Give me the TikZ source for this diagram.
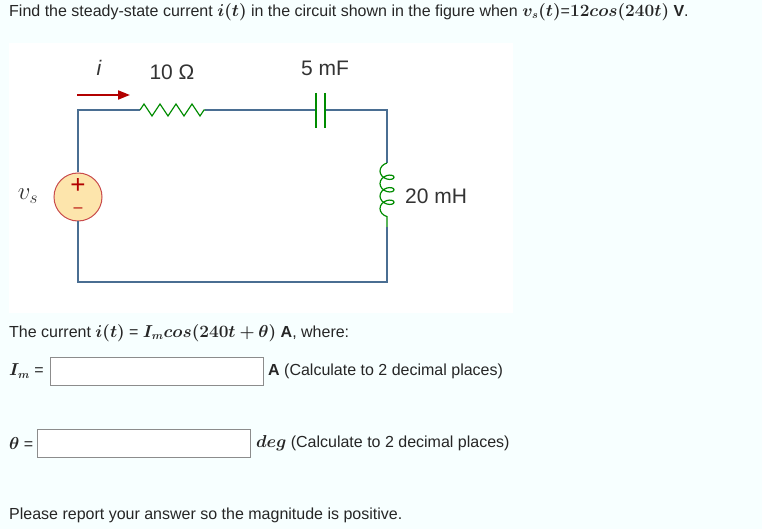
\documentclass[tikz,border=0pt]{standalone}
\usepackage{bm}
\usepackage{fontspec}
\setmainfont{Liberation Sans}
\usetikzlibrary{decorations.pathmorphing,arrows.meta}
\newcommand{\mm}[1]{$\bm{#1}$}
\definecolor{wirec}{HTML}{4A6E92}
\begin{document}
\begin{tikzpicture}[x=1pt,y=-1pt,
 wire/.style={draw=wirec,line width=1.6},
 comp/.style={draw=green!55!black,line width=1.2},
 txt/.style={anchor=west,inner sep=0,font=\fontsize{16}{19}\selectfont,text=black!85},
 lbl/.style={inner sep=0,font=\fontsize{21}{24}\selectfont,text=black!80},
 inbox/.style={draw=black!45,fill=white,minimum width=213,minimum height=28,anchor=west,inner sep=0}]
\fill[blue!4!cyan!3] (0,0) rectangle (762,529);
\useasboundingbox (0,0) rectangle (762,529);
\fill[white] (9,43) rectangle (513,313);
\node[txt] (t1) at (9,12) {Find the steady-state current \mm{i(t)} in the circuit shown in the figure when \mm{v_s(t)}=\mm{12cos(240t)\ \mathrm{V}}.};
% circuit
\coordinate (tl) at (78,110); \coordinate (tr) at (387,110);
\coordinate (bl) at (78,282); \coordinate (br) at (387,282);
\node[circle,draw=red!70!black!70,fill=yellow!40!orange!30,line width=1,minimum size=48] (src) at (78,197) {};
\node[inner sep=0,text=red!70!black,font=\fontsize{26}{26}\selectfont] (pl) at (78,186) {+};
\node[inner sep=0,text=red!70!black,font=\fontsize{16}{16}\selectfont] (mi) at (78,210) {--};
\coordinate (r1) at (140,110); \coordinate (r2) at (205,110);
\coordinate (c1) at (316,110); \coordinate (c2) at (325,110);
\coordinate (l1) at (387,163); \coordinate (l2) at (387,227);
\draw[wire] (src.north) -- (tl) -- (r1);
\draw[wire] (r2) -- (c1); \draw[wire] (c2) -- (tr) -- (l1);
\draw[wire] (l2) -- (br) -- (bl) -- (src.south);
\draw[comp,decorate,decoration={zigzag,segment length=16,amplitude=6}] (r1) -- (r2);
\draw[comp] (316,93) -- (316,128) (325,93) -- (325,128);
\draw[comp,decorate,decoration={coil,aspect=0.7,segment length=12.5,amplitude=7,mirror}] (l1) -- (l2);
\draw[red!70!black,line width=1.8,-{Triangle[length=12,width=9]}] (77,95) -- (130,95);
\node[lbl] (i) at (99,68) {\itshape i};
\node[lbl] (R) at (172,72) {10 Ω};
\node[lbl] (C) at (325,68) {5 mF};
\node[lbl,anchor=west] (L) at (405,196) {20 mH};
\node[lbl,font=\fontsize{24}{24}\selectfont] (vs) at (28,196) {$v_s$};
% text
\node[txt] (t2) at (9,333) {The current \mm{i(t)} = \mm{I_m cos(240t+\theta)\ \mathrm{A}}, where:};
\node[txt] (t3) at (9,371) {\mm{I_m} =};
\node[inbox] (b1) at (50,371) {};
\node[txt] (t4) at (268,371) {\mm{\mathrm{A}} (Calculate to 2 decimal places)};
\node[txt] (t5) at (9,443) {\mm{\theta} =};
\node[inbox] (b2) at (37,443) {};
\node[txt] (t6) at (256,443) {\mm{deg} (Calculate to 2 decimal places)};
\node[txt] (t7) at (9,515) {Please report your answer so the magnitude is positive.};
\end{tikzpicture}
\end{document}
